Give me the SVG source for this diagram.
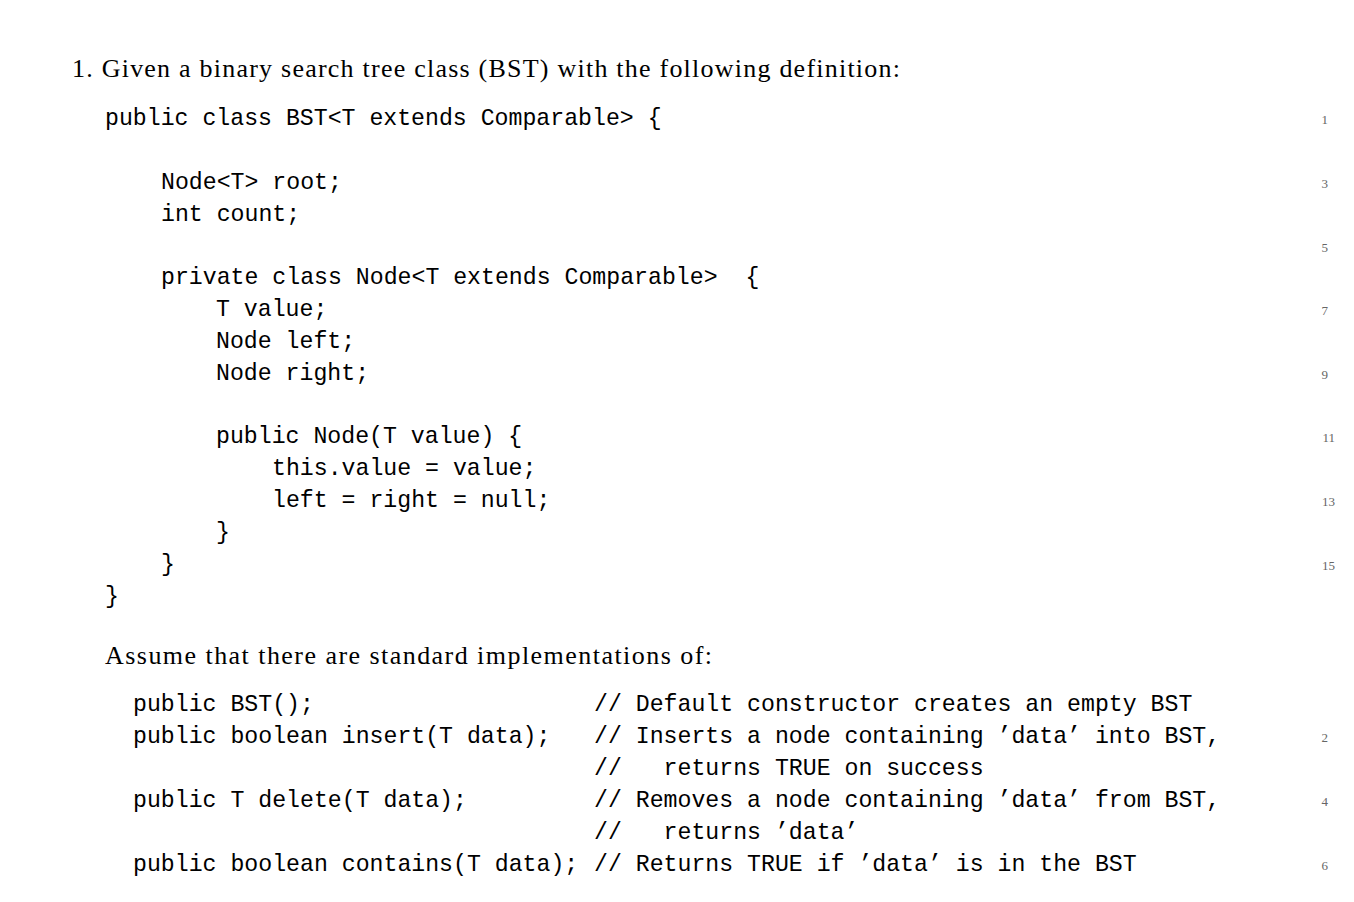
<svg xmlns="http://www.w3.org/2000/svg" width="1354" height="902" viewBox="0 0 1354 902">
<style>
.m{font-family:"Liberation Mono",monospace;font-size:23.2px;fill:#000;white-space:pre}
.s{font-family:"Liberation Serif",serif;font-size:26px;fill:#000}
.n{font-family:"Liberation Serif",serif;font-size:13px;fill:#666;text-anchor:end}
</style>
<rect width="1354" height="902" fill="#fff"/>
<g id="title"><text class="s" x="72" y="77" textLength="828">1. Given a binary search tree class (BST) with the following definition:</text></g>
<g id="code1">
<text class="m" x="105" y="125">public class BST&lt;T extends Comparable&gt; {</text>
<text class="m" x="161" y="189">Node&lt;T&gt; root;</text>
<text class="m" x="161" y="221">int count;</text>
<text class="m" x="161" y="284">private class Node&lt;T extends Comparable&gt;  {</text>
<text class="m" x="216" y="316">T value;</text>
<text class="m" x="216" y="348">Node left;</text>
<text class="m" x="216" y="380">Node right;</text>
<text class="m" x="216" y="443">public Node(T value) {</text>
<text class="m" x="272" y="475">this.value = value;</text>
<text class="m" x="272" y="507">left = right = null;</text>
<text class="m" x="216" y="539">}</text>
<text class="m" x="161" y="571">}</text>
<text class="m" x="105" y="603">}</text>
</g>
<g id="lines1">
<text class="n" x="1328" y="124">1</text>
<text class="n" x="1328" y="188">3</text>
<text class="n" x="1328" y="252">5</text>
<text class="n" x="1328" y="315">7</text>
<text class="n" x="1328" y="379">9</text>
<text class="n" x="1335" y="442">11</text>
<text class="n" x="1335" y="506">13</text>
<text class="n" x="1335" y="570">15</text>
</g>
<g id="assume"><text class="s" x="105" y="664" textLength="607">Assume that there are standard implementations of:</text></g>
<g id="code2">
<text class="m" x="133" y="711">public BST();</text>
<text class="m" x="594" y="711">// Default constructor creates an empty BST</text>
<text class="m" x="133" y="743">public boolean insert(T data);</text>
<text class="m" x="594" y="743">// Inserts a node containing ’data’ into BST,</text>
<text class="m" x="594" y="775">//   returns TRUE on success</text>
<text class="m" x="133" y="807">public T delete(T data);</text>
<text class="m" x="594" y="807">// Removes a node containing ’data’ from BST,</text>
<text class="m" x="594" y="839">//   returns ’data’</text>
<text class="m" x="133" y="871">public boolean contains(T data);</text>
<text class="m" x="594" y="871">// Returns TRUE if ’data’ is in the BST</text>
</g>
<g id="lines2">
<text class="n" x="1328" y="742">2</text>
<text class="n" x="1328" y="806">4</text>
<text class="n" x="1328" y="870">6</text>
</g>
</svg>
